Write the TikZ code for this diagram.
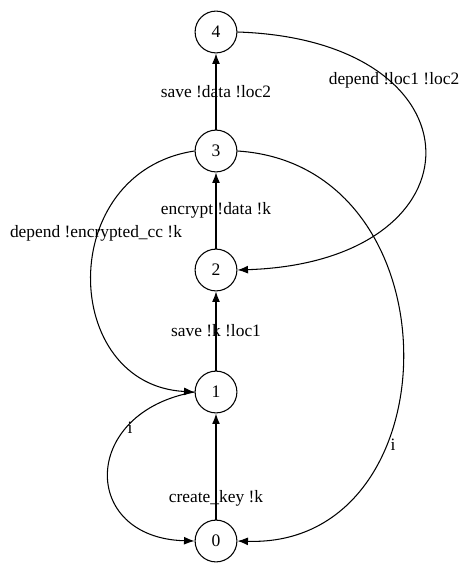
\documentclass[tikz,border=0pt]{standalone}
\usepackage{fontspec}
\setmainfont{Liberation Serif}
\usetikzlibrary{arrows.meta}
\begin{document}
\begin{tikzpicture}[x=0.02cm,y=-0.02cm]
		\tikzset{state/.style = {shape=circle,draw,semithick,minimum size=23.8pt,inner sep=0pt,font=\fontsize{10}{12}\selectfont}}
		\tikzset{trans/.style = {-{Latex[length=6pt,width=4.5pt]},draw,semithick}}
		\tikzset{lbl/.style = {font=\fontsize{9.9}{11}\selectfont,inner sep=1pt}}
		\useasboundingbox (0,0) rectangle (474,571);
		\node[state] (s4) at (216,32) {4};
		\node[state] (s3) at (216,151) {3};
		\node[state] (s2) at (216,270) {2};
		\node[state] (s1) at (216,392) {1};
		\node[state] (s0) at (216,541) {0};
		\path[trans,thick] (s0) edge node[lbl,pos=0.2] {create\_key !k} (s1);
		\path[trans] (s1) edge node[lbl] {save !k !loc1} (s2);
		\path[trans] (s2) edge node[lbl] {encrypt !data !k} (s3);
		\path[trans] (s3) edge node[lbl] {save !data !loc2} (s4);
		\draw[trans] (s4.east) .. controls (487,40) and (487,262) .. (s2.east);
		\draw[trans] (s3.west) .. controls (55,172) and (60,385) .. (s1.west);
		\draw[trans] (s3.east) .. controls (460,165) and (455,548) .. (s0.east);
		\draw[trans] (s1.west) .. controls (80,412) and (80,538) .. (s0.west);
		\node[lbl] (l42) at (394,80) {depend !loc1 !loc2};
		\node[lbl] (l31) at (96,233) {depend !encrypted\_cc !k};
		\node[lbl] (l30) at (393,445) {i};
		\node[lbl] (l10) at (130,428) {i};
	\end{tikzpicture}
\end{document}
